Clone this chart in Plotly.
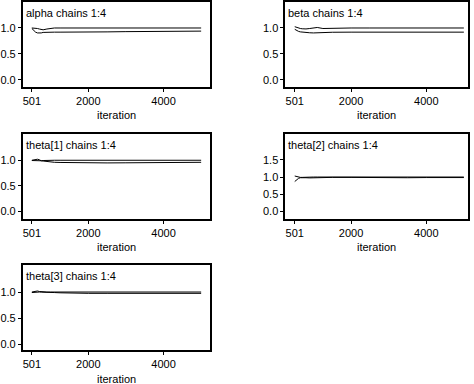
import plotly.graph_objects as go

# ---------------- data ----------------
iters = [501, 550, 600, 650, 700, 750, 800, 900, 1000, 1100, 1250, 1500,
         2000, 2500, 3000, 3500, 4000, 4500, 5000]

alpha_upper = [1.00, 1.00, 0.995, 0.99, 0.98, 0.97, 0.965, 0.98, 0.995, 1.00, 1.00, 1.00,
               1.00, 1.00, 1.00, 1.00, 1.00, 1.00, 1.00]
alpha_lower = [0.99, 0.95, 0.92, 0.905, 0.90, 0.905, 0.915, 0.92, 0.92, 0.92, 0.92, 0.92,
               0.915, 0.925, 0.93, 0.935, 0.94, 0.94, 0.94]

beta_upper = [1.025, 1.01, 1.00, 0.99, 0.985, 0.98, 0.982, 0.99, 1.005, 1.01, 0.99, 0.997,
              1.00, 1.00, 1.00, 1.00, 1.00, 1.00, 1.00]
beta_lower = [0.975, 0.95, 0.935, 0.925, 0.92, 0.915, 0.912, 0.908, 0.905, 0.908, 0.915, 0.918,
              0.92, 0.92, 0.92, 0.92, 0.92, 0.92, 0.92]

theta1_upper = [1.00, 1.005, 1.01, 1.02, 1.01, 0.99, 0.995, 1.00, 1.00, 1.00, 1.00, 1.00,
                1.00, 1.00, 1.00, 1.00, 1.00, 1.00, 1.00]
theta1_lower = [0.995, 0.995, 1.00, 1.00, 0.995, 0.99, 0.985, 0.975, 0.965, 0.96, 0.957, 0.953,
                0.95, 0.948, 0.95, 0.953, 0.955, 0.958, 0.96]

theta2_upper = [1.03, 1.01, 0.995, 0.99, 0.99, 0.995, 1.00, 1.00, 1.00, 1.00, 1.00, 1.00,
                1.00, 1.00, 1.00, 1.00, 1.00, 1.00, 1.00]
theta2_lower = [0.87, 0.92, 0.96, 0.98, 0.985, 0.985, 0.98, 0.975, 0.98, 0.985, 0.99, 0.99,
                0.99, 0.98, 0.975, 0.98, 0.985, 0.985, 0.985]

theta3_upper = [1.00, 1.01, 1.02, 1.02, 1.01, 1.005, 1.00, 1.00, 1.00, 1.00, 1.00, 1.00,
                1.00, 1.00, 1.00, 1.00, 1.00, 1.00, 1.00]
theta3_lower = [0.99, 0.995, 1.00, 1.00, 1.00, 0.998, 0.995, 0.993, 0.99, 0.99, 0.985, 0.98,
                0.975, 0.975, 0.975, 0.975, 0.975, 0.975, 0.975]

titles = ["alpha chains 1:4", "beta chains 1:4", "theta[1] chains 1:4",
          "theta[2] chains 1:4", "theta[3] chains 1:4"]
series = [(alpha_upper, alpha_lower), (beta_upper, beta_lower),
          (theta1_upper, theta1_lower), (theta2_upper, theta2_lower),
          (theta3_upper, theta3_lower)]
x_ticks = [501, 2000, 4000]
x_tick_labels = ["501", "2000", "4000"]
y_ranges = [[-0.135, 1.5], [-0.135, 1.5], [-0.15, 1.52], [-0.22, 2.26], [-0.115, 1.52]]
y_ticks = [[0.0, 0.5, 1.0], [0.0, 0.5, 1.0], [0.0, 0.5, 1.0],
           [0.0, 0.5, 1.0, 1.5], [0.0, 0.5, 1.0]]
x_ranges = [[263, 5225], [255, 5103], [263, 5225], [255, 5103], [263, 5225]]

# ---------------- layout geometry ----------------
W, H = 474, 384
col_dom = [[21 / W, 208.5 / W], [284.7 / W, 467.7 / W]]
row_px = [(2, 87), (133.7, 219), (265, 350)]
row_dom = [[1 - b / H, 1 - t / H] for t, b in row_px]
label_px = [115, 246.5, 379]

FONT = "Liberation Sans, Arial, Helvetica, sans-serif"

fig = go.Figure()
layout = dict(
    width=W, height=H,
    margin=dict(l=0, r=0, t=0, b=0),
    paper_bgcolor="white", plot_bgcolor="white",
    showlegend=False,
    font=dict(family=FONT, size=11, color="black"),
)
annotations = []

for i, (title, (up, lo)) in enumerate(zip(titles, series)):
    r, c = divmod(i, 2)
    n = "" if i == 0 else str(i + 1)
    xa, ya = "x" + n, "y" + n
    for vals in (up, lo):
        fig.add_trace(go.Scatter(x=iters, y=vals, mode="lines",
                                 line=dict(color="black", width=1),
                                 xaxis=xa, yaxis=ya, hoverinfo="skip"))
    layout["xaxis" + n] = dict(
        domain=col_dom[c], range=x_ranges[i], anchor=ya,
        tickvals=x_ticks, ticktext=x_tick_labels,
        ticks="outside", ticklen=3, tickwidth=1, tickcolor="black",
        showline=True, linecolor="black", linewidth=2, mirror=True,
        showgrid=False, zeroline=False,
        tickfont=dict(family=FONT, size=11, color="black"),
    )
    layout["yaxis" + n] = dict(
        domain=row_dom[r], range=y_ranges[i], anchor=xa,
        tickvals=y_ticks[i], tickformat=".1f",
        ticks="outside", ticklen=3, tickwidth=1, tickcolor="black",
        showline=True, linecolor="black", linewidth=2, mirror=True,
        showgrid=False, zeroline=False,
        tickfont=dict(family=FONT, size=11, color="black"),
    )
    annotations.append(dict(
        text=title, xref=xa + " domain", yref=ya + " domain", x=0, y=1,
        xanchor="left", yanchor="top", xshift=1, yshift=-3, showarrow=False,
        font=dict(family=FONT, size=11, color="black"),
    ))
    annotations.append(dict(
        text="iteration", xref="paper", yref="paper",
        x=(col_dom[c][0] + col_dom[c][1]) / 2, y=1 - label_px[r] / H,
        xanchor="center", yanchor="middle", showarrow=False,
        font=dict(family=FONT, size=11, color="black"),
    ))

layout["annotations"] = annotations
fig.update_layout(**layout)
fig.write_html(
    "out.html",
    config={"displayModeBar": False},
    post_script="document.body.style.margin='0';document.body.style.overflow='hidden';",
)
